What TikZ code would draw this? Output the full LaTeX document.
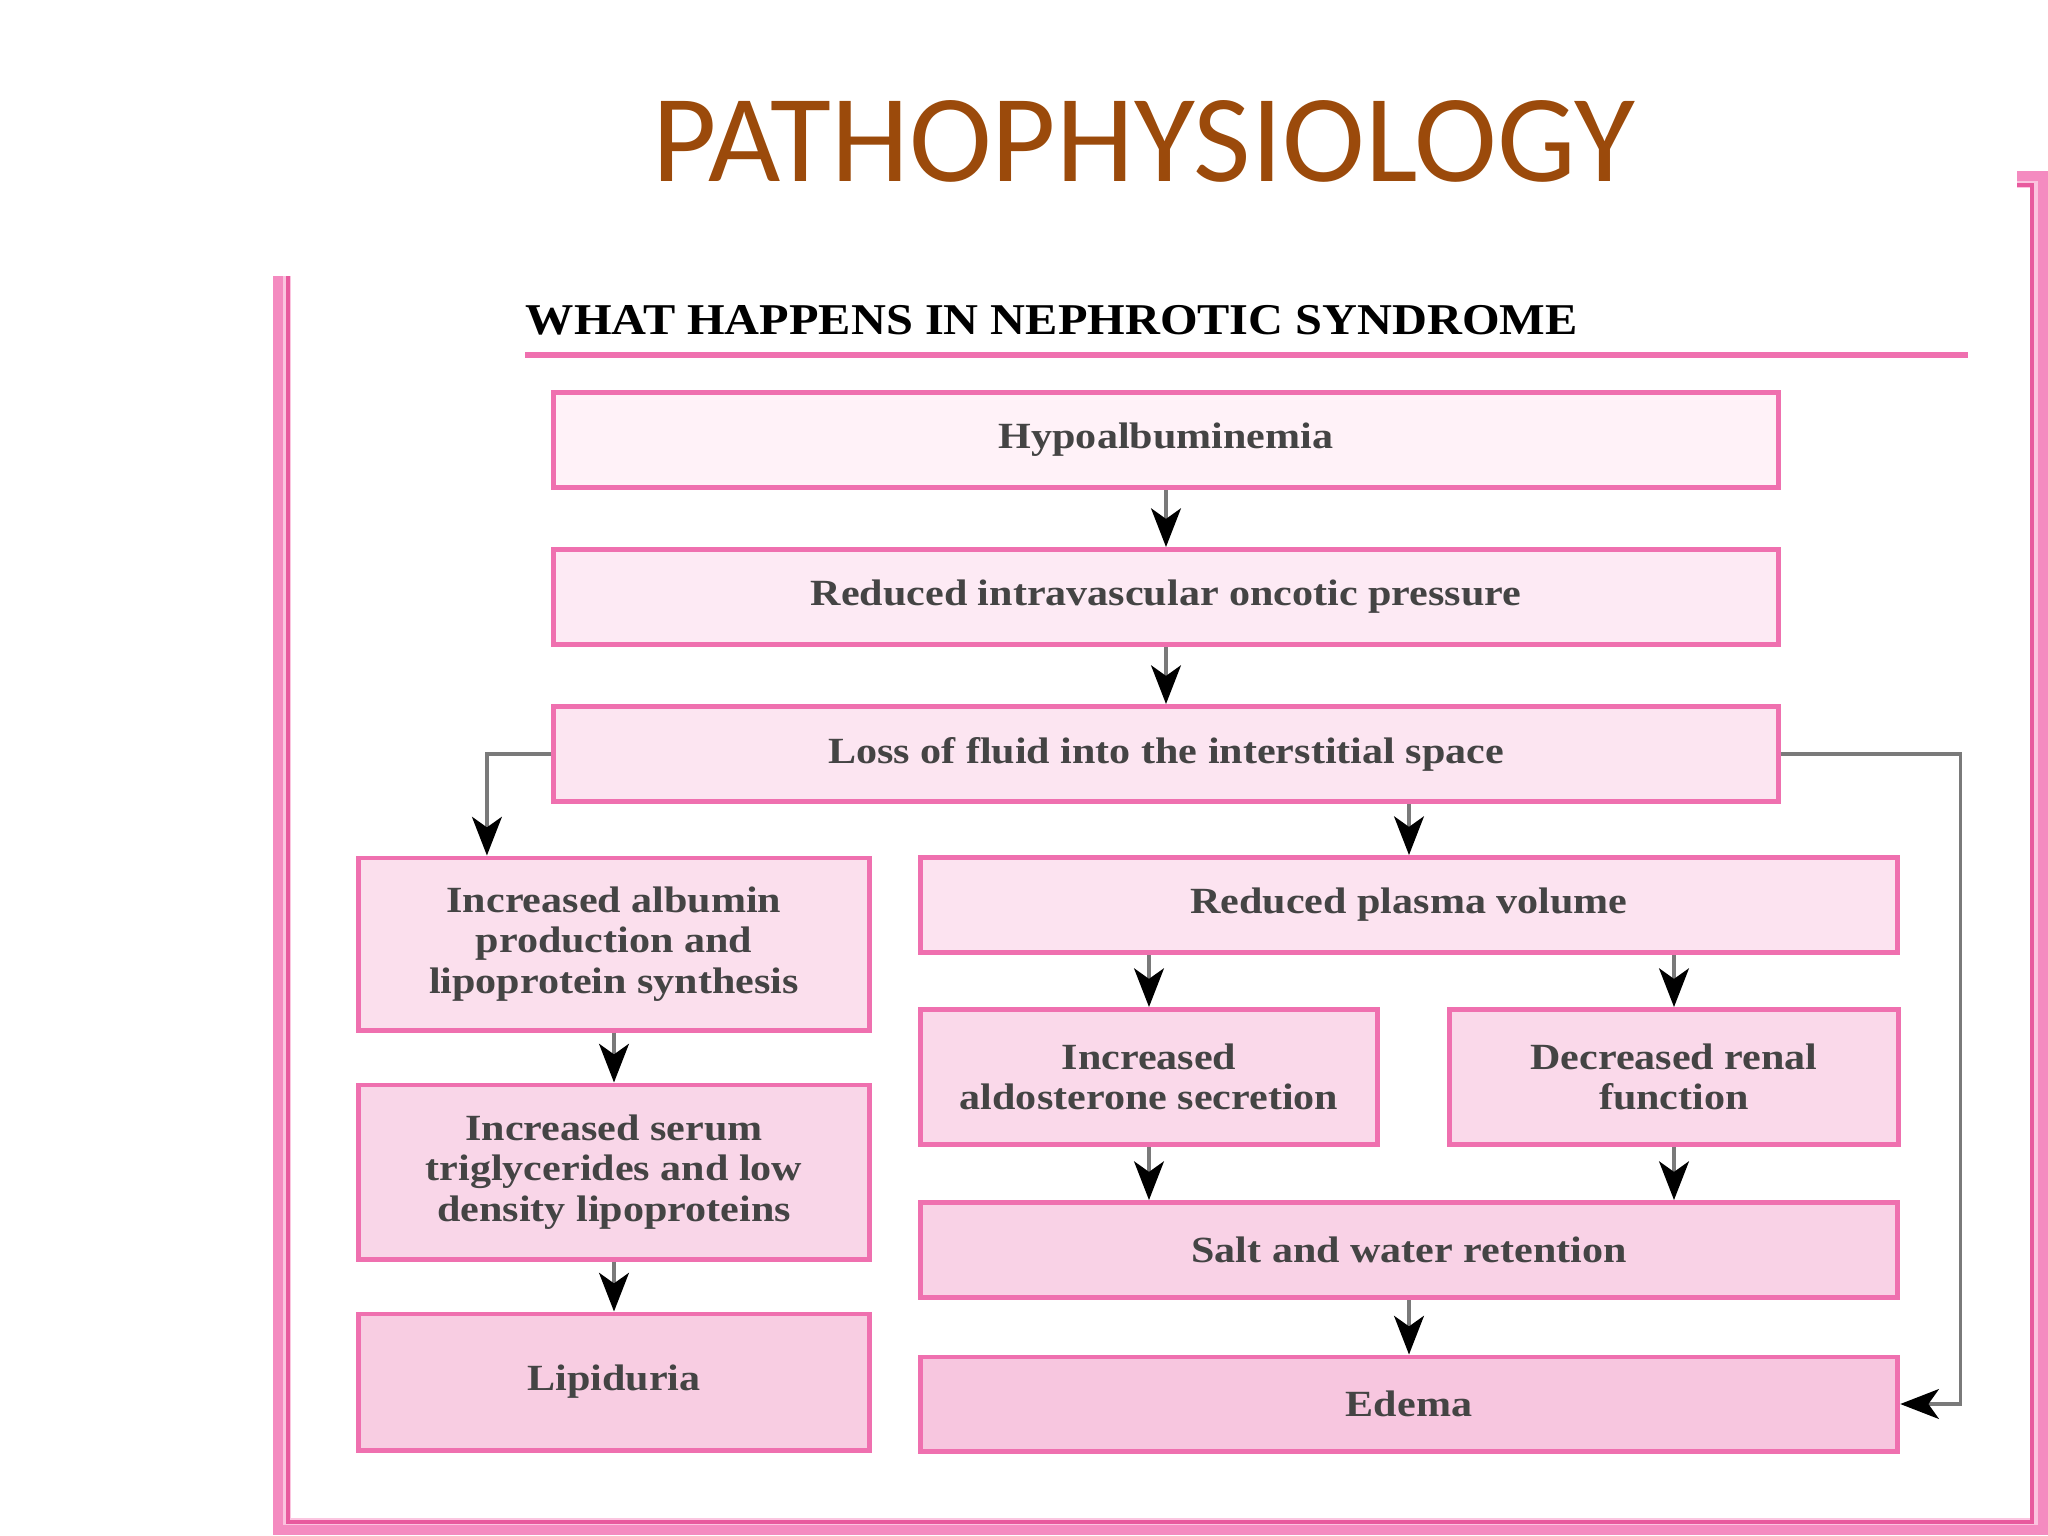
\documentclass[tikz,border=0pt]{standalone}
\usepackage{fontspec}
\usepackage{xcolor}
\usepackage{tikz}
\usetikzlibrary{arrows.meta}
\setmainfont{Liberation Serif}
\newfontfamily\titlefont{Carlito}
\newfontfamily\headfont[FakeStretch=1.1]{Liberation Serif}
\newfontfamily\boxfont[FakeStretch=1.14]{Liberation Serif}
\definecolor{titlebrown}{HTML}{9B4A0B}
\definecolor{frameout}{HTML}{F48BC0}
\definecolor{framein}{HTML}{E85A9E}
\definecolor{framegap}{HTML}{FBC4DF}
\definecolor{boxline}{HTML}{EF70AF}
\definecolor{boxtext}{HTML}{444444}
\definecolor{stemgray}{HTML}{7A7A7A}
\definecolor{pinkA}{HTML}{FFF2F8}
\definecolor{pinkB}{HTML}{FDEAF4}
\definecolor{pinkC}{HTML}{FCE5F1}
\definecolor{pinkD}{HTML}{FBDFED}
\definecolor{pinkE}{HTML}{F9D6E8}
\definecolor{pinkF}{HTML}{F8CDE2}
\definecolor{pinkG}{HTML}{FCE3F0}
\definecolor{pinkH}{HTML}{FAD9EA}
\definecolor{pinkI}{HTML}{F9D2E6}
\definecolor{pinkJ}{HTML}{F7C6DF}

\begin{document}
\begin{tikzpicture}[x=0.01cm,y=-0.01cm,
    box/.style={draw=boxline,line width=1.4pt,fill=#1,inner sep=0pt,align=center,text=boxtext,
      font=\boxfont\bfseries\fontsize{10.5}{11.5}\selectfont},
    wide/.style={minimum width=12.24cm,minimum height=0.95cm},
    side/.style={minimum width=5.11cm},
    right/.style={minimum width=9.77cm},
    flow/.style={draw=stemgray,line width=0.9pt,-{Stealth[black,length=11pt,width=8.5pt,inset=3pt]}}]
  \useasboundingbox (0,0) rectangle (2048,1536);

  % frame
  \draw[framegap,line width=4.5pt] (2017,180) -- (2038,180) -- (2038,1526) -- (283,1526) -- (283,276);
  \draw[frameout,line width=2.8pt] (2017,176) -- (2043,176) -- (2043,1530) -- (278,1530) -- (278,276);
  \draw[framein,line width=0.9pt] (2017,185) -- (2032,185) -- (2032,1522) -- (288,1522) -- (288,276);

  \node[font=\titlefont\fontsize{35.5}{42}\selectfont,text=titlebrown] (title) at (1144,141) {PATHOPHYSIOLOGY};
  \node[font=\headfont\bfseries\fontsize{12.5}{15}\selectfont,anchor=west,inner sep=0pt] (head) at (525,320) {WHAT HAPPENS IN NEPHROTIC SYNDROME};
  \draw[boxline,line width=1.5pt] (525,355) -- (1968,355);

  \node[box=pinkA,wide] (hypo) at (1166,440) {Hypoalbuminemia};
  \node[box=pinkB,wide] (oncotic) at (1166,597) {Reduced intravascular oncotic pressure};
  \node[box=pinkC,wide] (loss) at (1166,754) {Loss of fluid into the interstitial space};

  \node[box=pinkD,side,minimum height=1.72cm] (albumin) at (614,944) {Increased albumin\\production and\\lipoprotein synthesis};
  \node[box=pinkE,side,minimum height=1.74cm] (serum) at (614,1172) {Increased serum\\triglycerides and low\\density lipoproteins};
  \node[box=pinkF,side,minimum height=1.36cm] (lipid) at (614,1382) {Lipiduria};

  \node[box=pinkG,right,minimum height=0.95cm] (plasma) at (1409,905) {Reduced plasma volume};
  \node[box=pinkH,minimum width=4.57cm,minimum height=1.35cm] (aldo) at (1149,1077) {Increased\\aldosterone secretion};
  \node[box=pinkH,minimum width=4.48cm,minimum height=1.35cm] (renal) at (1674,1077) {Decreased renal\\function};
  \node[box=pinkI,right,minimum height=0.95cm] (salt) at (1409,1250) {Salt and water retention};
  \node[box=pinkJ,right,minimum height=0.94cm] (edema) at (1409,1404) {Edema};

  \draw[flow] (hypo) -- (oncotic);
  \draw[flow] (oncotic) -- (loss);
  \draw[flow] (loss.west) -| ([xshift=-1.27cm]albumin.north);
  \draw[flow] (loss.south -| plasma.north) -- (plasma);
  \draw[flow] (loss.east) -- ++(180,0) |- (edema.east);
  \draw[flow] (albumin) -- (serum);
  \draw[flow] (serum) -- (lipid);
  \draw[flow] (plasma.south -| aldo.north) -- (aldo);
  \draw[flow] (plasma.south -| renal.north) -- (renal);
  \draw[flow] (aldo) -- (aldo.south |- salt.north);
  \draw[flow] (renal) -- (renal.south |- salt.north);
  \draw[flow] (salt) -- (edema);
\end{tikzpicture}
\end{document}
